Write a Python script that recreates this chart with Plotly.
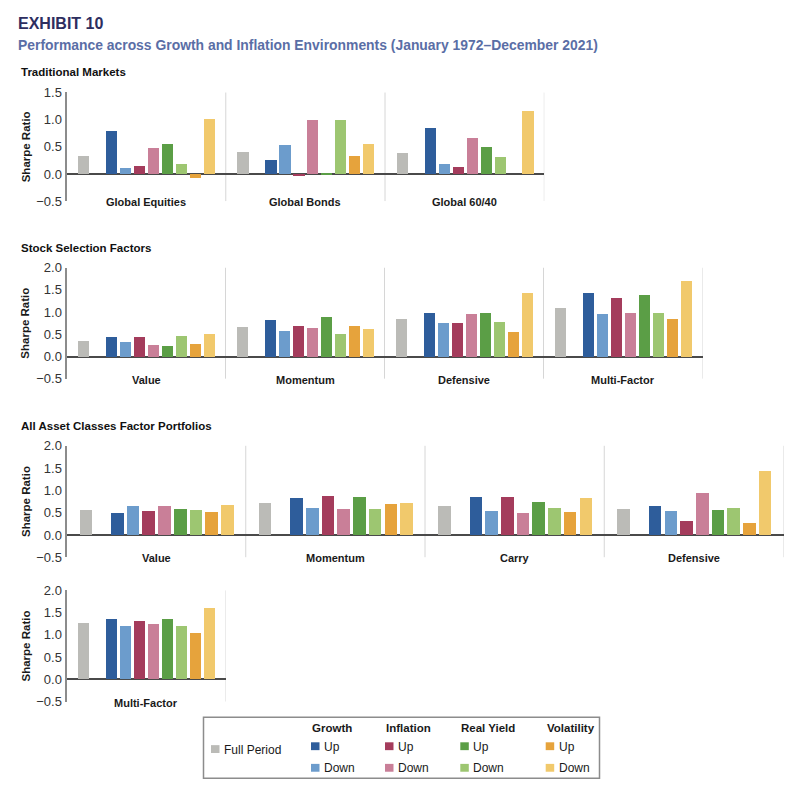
import plotly.graph_objects as go

# ---------------- data (Sharpe ratios) ----------------
series = ["Full Period", "Growth Up", "Growth Down", "Inflation Up", "Inflation Down",
          "Real Yield Up", "Real Yield Down", "Volatility Up", "Volatility Down"]
colors = ["#bbbbb7", "#2e5d9b", "#6c9ccc", "#a43c5c", "#c97f98",
          "#5b9e46", "#9dc671", "#e6a33c", "#f1c96c"]

# Traditional Markets
tm_cats = ["Global Equities", "Global Bonds", "Global 60/40"]
tm_global_equities = [0.32, 0.79, 0.10, 0.14, 0.48, 0.54, 0.18, -0.07, 1.01]
tm_global_bonds = [0.40, 0.26, 0.53, -0.04, 0.98, -0.01, 0.99, 0.32, 0.55]
tm_global_6040 = [0.38, 0.84, 0.17, 0.13, 0.65, 0.49, 0.31, 0.00, 1.16]

# Stock Selection Factors
ss_cats = ["Value", "Momentum", "Defensive", "Multi-Factor"]
ss_value = [0.37, 0.44, 0.34, 0.45, 0.28, 0.24, 0.48, 0.30, 0.51]
ss_momentum = [0.67, 0.84, 0.59, 0.70, 0.65, 0.90, 0.52, 0.70, 0.64]
ss_defensive = [0.86, 0.99, 0.77, 0.77, 0.96, 0.98, 0.79, 0.56, 1.44]
ss_multifactor = [1.11, 1.44, 0.96, 1.32, 0.99, 1.39, 0.99, 0.85, 1.71]

# All Asset Classes Factor Portfolios
ac_cats = ["Value", "Momentum", "Carry", "Defensive"]
ac_value = [0.58, 0.51, 0.65, 0.54, 0.65, 0.60, 0.57, 0.53, 0.68]
ac_momentum = [0.72, 0.84, 0.62, 0.88, 0.59, 0.86, 0.60, 0.71, 0.73]
ac_carry = [0.67, 0.86, 0.55, 0.86, 0.51, 0.74, 0.62, 0.53, 0.84]
ac_defensive = [0.60, 0.66, 0.54, 0.32, 0.94, 0.58, 0.62, 0.27, 1.44]

mf_cats = ["Multi-Factor"]
ac_multifactor = [1.26, 1.35, 1.20, 1.31, 1.23, 1.34, 1.20, 1.04, 1.59]

legend_groups = ["Growth", "Inflation", "Real Yield", "Volatility"]
legend_states = ["Up", "Down"]

# ---------------- layout helpers ----------------
W = H = 797
FONT = "Liberation Sans"


def px(x):
    return x / W


def py(y):
    return 1 - y / H


G = 11.4            # group width in slot units
M = G / 2 - 4.5     # margin to first slot centre
slot_pos = [0, 2, 3, 4, 5, 6, 7, 8, 9]

panels = [
    dict(cats=tm_cats, vals=[tm_global_equities, tm_global_bonds, tm_global_6040],
         x0=66.5, x1=544.3, y0=87.0, y1=198.0, ymax=1.5,
         head="Traditional Markets", head_y=66.5),
    dict(cats=ss_cats, vals=[ss_value, ss_momentum, ss_defensive, ss_multifactor],
         x0=66.5, x1=702.5, y0=265.5, y1=379.0, ymax=2.0,
         head="Stock Selection Factors", head_y=246.0),
    dict(cats=ac_cats, vals=[ac_value, ac_momentum, ac_carry, ac_defensive],
         x0=66.5, x1=783.5, y0=447.0, y1=561.0, ymax=2.0,
         head="All Asset Classes Factor Portfolios", head_y=427.0),
    dict(cats=mf_cats, vals=[ac_multifactor],
         x0=66.5, x1=226.0, y0=594.5, y1=708.0, ymax=2.0,
         head=None, head_y=None),
]

fig = go.Figure()
shapes = []
annotations = []
layout = {}

for i, p in enumerate(panels):
    sfx = "" if i == 0 else str(i + 1)
    xa, ya = "x" + sfx, "y" + sfx
    n = len(p["cats"])
    for s in range(len(series)):
        fig.add_trace(go.Bar(
            x=[g * G + M + slot_pos[s] for g in range(n)],
            y=[p["vals"][g][s] for g in range(n)],
            xaxis=xa, yaxis=ya, width=0.8,
            marker=dict(color=colors[s], line=dict(width=0)),
            name=series[s], showlegend=False,
            customdata=p["cats"],
            hovertemplate="%{customdata}<br>" + series[s] + ": %{y:.2f}<extra></extra>",
        ))
    ticks = [-0.5, 0.0, 0.5, 1.0, 1.5] + ([2.0] if p["ymax"] >= 2.0 else [])
    layout["xaxis" + sfx] = dict(domain=[px(p["x0"]), px(p["x1"])], range=[0, n * G],
                                 showgrid=False, zeroline=False, showticklabels=False,
                                 showline=False, anchor=ya, fixedrange=True)
    layout["yaxis" + sfx] = dict(domain=[py(p["y1"]), py(p["y0"])], range=[-0.5, p["ymax"]],
                                 tickvals=ticks, tickformat=".1f", showgrid=False,
                                 zeroline=True, zerolinecolor="#4a4a4a", zerolinewidth=1.5,
                                 showline=True, linecolor="#8c8c8c", linewidth=2,
                                 ticks="", anchor=xa, fixedrange=True,
                                 tickfont=dict(family=FONT, size=13, color="#333333"))
    # group separators
    for g in range(1, n + 1):
        shapes.append(dict(type="line", xref=xa, yref=ya, x0=g * G, x1=g * G,
                           y0=-0.5, y1=p["ymax"], layer="below",
                           line=dict(color="#d6d6d6", width=1)))
    # category labels
    for g, c in enumerate(p["cats"]):
        annotations.append(dict(text="<b>%s</b>" % c, xref=xa, yref=ya, x=(g + 0.5) * G,
                                y=-0.5, yshift=-1, showarrow=False, xanchor="center",
                                yanchor="middle",
                                font=dict(family=FONT, size=11, color="#1a1a1a")))
    # y axis title
    annotations.append(dict(text="<b>Sharpe Ratio</b>", xref="paper", yref="paper",
                            x=px(25.5), y=py((p["y0"] + p["y1"]) / 2), textangle=-90,
                            showarrow=False, xanchor="center", yanchor="middle",
                            font=dict(family=FONT, size=11.5, color="#1a1a1a")))
    if p["head"]:
        annotations.append(dict(text="<b>%s</b>" % p["head"], xref="paper", yref="paper",
                                x=px(18.5), y=py(p["head_y"]), showarrow=False,
                                xanchor="left", yanchor="middle",
                                font=dict(family=FONT, size=11.5, color="#111111")))

# titles
annotations.append(dict(text="<b>EXHIBIT 10</b>", xref="paper", yref="paper",
                        x=px(15.5), y=py(17), showarrow=False, xanchor="left",
                        yanchor="middle", font=dict(family=FONT, size=16, color="#2d2e5f")))
annotations.append(dict(text="<b>Performance across Growth and Inflation Environments "
                             "(January 1972\u2013December 2021)</b>",
                        xref="paper", yref="paper", x=px(15.5), y=py(38.5), showarrow=False,
                        xanchor="left", yanchor="middle",
                        font=dict(family=FONT, size=13.9, color="#5a6ea6")))

# ---------------- legend (drawn) ----------------
shapes.append(dict(type="rect", xref="paper", yref="paper", x0=px(203.5), x1=px(599.5),
                   y0=py(786), y1=py(724), line=dict(color="#8c8c8c", width=1.5),
                   fillcolor="rgba(0,0,0,0)"))


def swatch(x, y, color):
    shapes.append(dict(type="rect", xref="paper", yref="paper", x0=px(x), x1=px(x + 8.5),
                       y0=py(y + 4), y1=py(y - 4), line=dict(width=0), fillcolor=color))


def ltext(x, y, t, bold=False):
    annotations.append(dict(text=("<b>%s</b>" % t) if bold else t, xref="paper", yref="paper",
                            x=px(x), y=py(y), showarrow=False, xanchor="left",
                            yanchor="middle",
                            font=dict(family=FONT, size=12 if not bold else 11.5,
                                      color="#1a1a1a")))


swatch(211, 756.3, colors[0])
ltext(221.5, 756.8, series[0])
col_x = [311, 385, 460.3, 545.7]
for gi, gname in enumerate(legend_groups):
    x = col_x[gi]
    ltext(x - 1, 734.8, gname, bold=True)
    for si, state in enumerate(legend_states):
        yy = 753.4 if si == 0 else 775.4
        swatch(x, yy, colors[1 + gi * 2 + si])
        ltext(x + 11, yy + 0.4, state)

fig.update_layout(
    width=W, height=H, margin=dict(l=0, r=0, t=0, b=0),
    paper_bgcolor="white", plot_bgcolor="white",
    bargap=0, shapes=shapes, annotations=annotations,
    font=dict(family=FONT, size=12, color="#222222"),
    **layout,
)

fig.write_html("out.html",
               post_script="document.body.style.margin='0';"
                           "document.body.style.padding='0';"
                           "document.body.style.overflow='hidden';")
